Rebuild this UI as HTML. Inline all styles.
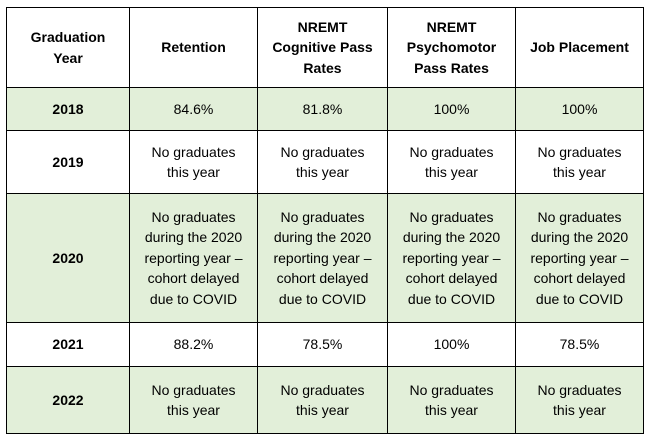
<!DOCTYPE html>
<html><head><style>
html,body{margin:0;padding:0;background:#fff;width:649px;height:440px;overflow:hidden}
table{position:absolute;left:6px;top:7px;border-collapse:collapse;table-layout:fixed;font-family:"Liberation Sans",Arial,sans-serif;font-size:14px;color:#000}
td{border:1px solid #000;text-align:center;vertical-align:middle;padding:0 2px;line-height:20.5px;box-sizing:border-box;white-space:nowrap}
.h td{font-weight:bold}
td.b{font-weight:bold}
.g td{background:#e2efd9}
</style></head><body>
<table>
<colgroup><col style="width:123px"><col style="width:128px"><col style="width:130px"><col style="width:128px"><col style="width:128px"></colgroup>
<tr class="h" style="height:80px"><td>Graduation<br>Year</td><td>Retention</td><td>NREMT<br>Cognitive Pass<br>Rates</td><td>NREMT<br>Psychomotor<br>Pass Rates</td><td>Job Placement</td></tr>
<tr class="g" style="height:43px"><td class="b">2018</td><td>84.6%</td><td>81.8%</td><td>100%</td><td>100%</td></tr>
<tr style="height:63px"><td class="b">2019</td><td>No graduates<br>this year</td><td>No graduates<br>this year</td><td>No graduates<br>this year</td><td>No graduates<br>this year</td></tr>
<tr class="g" style="height:129px"><td class="b">2020</td><td>No graduates<br>during the 2020<br>reporting year –<br>cohort delayed<br>due to COVID</td><td>No graduates<br>during the 2020<br>reporting year –<br>cohort delayed<br>due to COVID</td><td>No graduates<br>during the 2020<br>reporting year –<br>cohort delayed<br>due to COVID</td><td>No graduates<br>during the 2020<br>reporting year –<br>cohort delayed<br>due to COVID</td></tr>
<tr style="height:44px"><td class="b">2021</td><td>88.2%</td><td>78.5%</td><td>100%</td><td>78.5%</td></tr>
<tr class="g" style="height:67px"><td class="b">2022</td><td>No graduates<br>this year</td><td>No graduates<br>this year</td><td>No graduates<br>this year</td><td>No graduates<br>this year</td></tr>
</table>
</body></html>
